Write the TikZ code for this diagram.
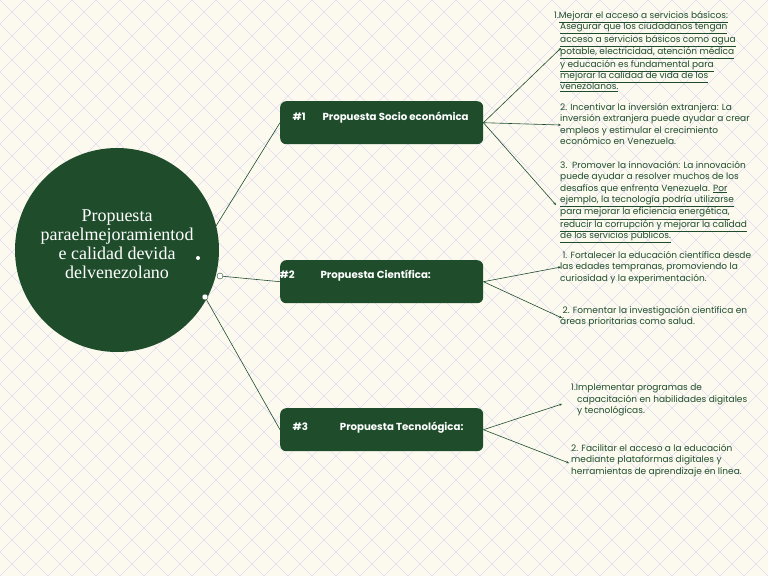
\documentclass[tikz,border=0pt]{standalone}
\usepackage{fontspec}
\setmainfont{Poppins}
\newfontfamily\titlefont{Liberation Serif}
\begin{document}
\begin{tikzpicture}[x=1pt,y=-1pt,
  topic/.style={draw=none,fill=dg,rounded corners=6pt,minimum width=203pt,minimum height=43pt,anchor=north west},
  ttext/.style={text=white,anchor=west,font=\fontsize{10.2}{11}\selectfont\bfseries},
  leaf/.style={anchor=north west,align=left,inner sep=0pt,text=dg,font=\fontsize{9}{11.4}\selectfont},
  conn/.style={draw=dg,line width=0.6pt},
  tip/.style={conn,-{Stealth[length=3pt,width=2.5pt]}}]
\definecolor{dg}{HTML}{1F4D2C}
\definecolor{bg}{HTML}{FCFAEE}
\definecolor{gr}{HTML}{E0DCF2}
\usetikzlibrary{arrows.meta}
\fill[bg] (0,0) rectangle (768,576);
\begin{scope}
\clip (0,0) rectangle (768,576);
\foreach \i in {-600,-576,...,1400} {
  \draw[gr,line width=0.4pt] (\i,0) -- ++(576,576);
  \draw[gr,line width=0.4pt] (\i,576) -- ++(576,-576);
}
\end{scope}
\useasboundingbox (0,0) rectangle (768,576);
\node[circle,fill=dg,minimum size=204pt,inner sep=0pt] (c) at (117,250) {};
\node[text=white,align=center,font=\titlefont\fontsize{18}{19}\selectfont] (ct) at (117,244) {Propuesta\\paraelmejoramientod\\e calidad devida\\delvenezolano};
\node[circle,fill=white,inner sep=0pt,minimum size=4pt] (dot) at (198,258) {};
\node[topic] (t1) at (280,101) {};
\node[ttext] (l1) at (289,118) {\#1\hspace{17pt}Propuesta Socio económica};
\node[topic] (t2) at (280,260) {};
\node[ttext] (l2) at (276,276) {\#2\hspace{26pt}Propuesta Científica:};
\node[topic] (t3) at (280,408) {};
\node[ttext] (l3) at (289,428) {\#3\hspace{32pt}Propuesta Tecnológica:};
\coordinate (a1) at (216,226);
\coordinate (a2) at (220,276);
\coordinate (a3) at (205,297);
\draw[conn] (a1) -- (t1.west);
\draw[conn] (a2) -- (t2.west);
\draw[conn] (a3) -- (t3.west);
\node[circle,draw=dg,fill=white,inner sep=0pt,minimum size=6pt] (o2) at (a2) {};
\node[circle,draw=dg,fill=white,inner sep=0pt,minimum size=6pt] (o3) at (a3) {};
\node[leaf] (s1) at (554,11) {1.\underline{Mejorar el acceso a servicios básicos:}\\
\hspace{6pt}\underline{Asegurar que los ciudadanos tengan}\\
\hspace{6pt}\underline{acceso a servicios básicos como agua}\\
\hspace{6pt}\underline{potable, electricidad, atención médica}\\
\hspace{6pt}\underline{y educación es fundamental para}\\
\hspace{6pt}\underline{mejorar la calidad de vida de los}\\
\hspace{6pt}\underline{venezolanos.}};
\node[leaf] (s2) at (560,103) {2. Incentivar la inversión extranjera: La\\inversión extranjera puede ayudar a crear\\empleos y estimular el crecimiento\\económico en Venezuela.};
\node[leaf] (s3) at (560,161) {3.\ \ Promover la innovación: La innovación\\puede ayudar a resolver muchos de los\\desafíos que enfrenta Venezuela. \underline{Por}\\\underline{ejemplo, la tecnología podría utilizarse}\\\underline{para mejorar la eficiencia energética,}\\\underline{reducir la corrupción y mejorar la calidad}\\\underline{de los servicios públicos.}};
\node[leaf] (c1) at (560,251) {\ 1. Fortalecer la educación científica desde\\las edades tempranas, promoviendo la\\curiosidad y la experimentación.};
\node[leaf] (c2) at (560,306) {\ 2. Fomentar la investigación científica en\\áreas prioritarias como salud.};
\node[leaf] (g1) at (571,384) {1.Implementar programas de\\\hspace{6pt}capacitación en habilidades digitales\\\hspace{6pt}y tecnológicas.};
\node[leaf] (g2) at (571,444) {2. Facilitar el acceso a la educación\\mediante plataformas digitales y\\herramientas de aprendizaje en línea.};
\coordinate (e1) at (561,48);
\coordinate (e2) at (561,125);
\coordinate (e3) at (556,205);
\coordinate (e4) at (561,267);
\coordinate (e5) at (562,318);
\coordinate (e6) at (562,404);
\coordinate (e7) at (569,463);
\draw[tip] (t1.east) -- (e1);
\draw[tip] (t1.east) -- (e2);
\draw[tip] (t1.east) -- (e3);
\draw[tip] (t2.east) -- (e4);
\draw[tip] (t2.east) -- (e5);
\draw[tip] (t3.east) -- (e6);
\draw[tip] (t3.east) -- (e7);
\end{tikzpicture}
\end{document}
